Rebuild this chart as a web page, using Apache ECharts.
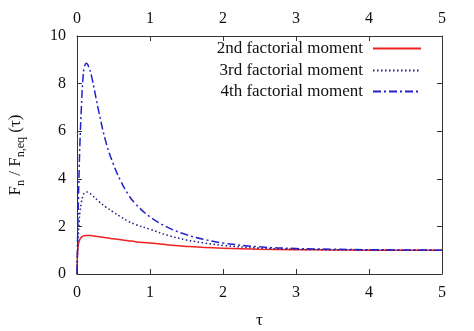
<!DOCTYPE html>
<html>
<head>
<meta charset="utf-8">
<script src="https://cdn.jsdelivr.net/npm/echarts@6/dist/echarts.min.js"></script>
<style>html,body{margin:0;padding:0;background:#fff;}#c{width:474px;height:331px;}</style>
</head>
<body>
<div id="c"></div>
<script>
var tau     = [0, 0.005, 0.01, 0.02, 0.03, 0.04, 0.06, 0.08, 0.1, 0.13, 0.16, 0.2, 0.3, 0.4, 0.5, 0.6, 0.7, 0.8, 1.0, 1.25, 1.5, 1.75, 2.0, 2.5, 3.0, 3.5, 4.0, 4.5, 5.0];
var moment2 = [0, 0.7, 1.0, 1.25, 1.38, 1.46, 1.54, 1.59, 1.61, 1.62, 1.62, 1.61, 1.57, 1.52, 1.48, 1.44, 1.4, 1.36, 1.3, 1.22, 1.16, 1.11, 1.08, 1.04, 1.02, 1.01, 1.0, 1.0, 1.0];
var moment3 = [0, 0.6, 1.0, 1.7, 2.2, 2.6, 3.0, 3.27, 3.4, 3.45, 3.42, 3.33, 3.05, 2.8, 2.6, 2.4, 2.22, 2.08, 1.88, 1.62, 1.43, 1.3, 1.2, 1.09, 1.04, 1.02, 1.01, 1.0, 1.0];
var moment4 = [0, 0.9, 1.8, 3.2, 4.4, 5.5, 7.0, 8.15, 8.7, 8.85, 8.7, 8.3, 6.8, 5.5, 4.6, 3.9, 3.35, 2.95, 2.4, 1.95, 1.65, 1.45, 1.3, 1.14, 1.07, 1.04, 1.02, 1.01, 1.0];
var xTicks = [0, 1, 2, 3, 4, 5];
var yTicks = [0, 2, 4, 6, 8, 10];
var names = ['2nd factorial moment', '3rd factorial moment', '4th factorial moment'];

function pairs(ys) { return tau.map(function (t, i) { return [t, ys[i]]; }); }

var serif = 'Liberation Serif';
var axisColor = '#333';
var chart = echarts.init(document.getElementById('c'), null, {renderer: 'canvas'});

function legendFor(name, top) {
  return {
    data: [name], right: 52, top: top, align: 'right', orient: 'vertical',
    itemWidth: 48, itemHeight: 10, itemGap: 6, padding: 0,
    itemStyle: {opacity: 0},
    textStyle: {fontFamily: serif, fontSize: 17, color: '#111', padding: [0, 5, 0, 0]},
    selectedMode: false
  };
}

chart.setOption({
  animation: false,
  backgroundColor: '#fff',
  grid: {left: 77, right: 32, top: 36, bottom: 57, show: false, containLabel: false, outerBoundsMode: 'none'},
  legend: [legendFor(names[0], 40), legendFor(names[1], 62), legendFor(names[2], 83)],
  xAxis: [{
    type: 'value', min: 0, max: 5, interval: 1, position: 'bottom',
    name: 'τ', nameLocation: 'middle', nameGap: 38,
    nameTextStyle: {fontFamily: serif, fontSize: 17, color: '#111'},
    axisLine: {show: true, onZero: false, lineStyle: {color: axisColor, width: 1}},
    axisTick: {show: true, inside: true, length: 5, lineStyle: {color: axisColor}},
    axisLabel: {fontFamily: serif, fontSize: 16, color: '#111', margin: 11, formatter: function (v) { return xTicks.indexOf(v) >= 0 ? String(v) : ''; }},
    splitLine: {show: false}
  }, {
    type: 'value', min: 0, max: 5, interval: 1, position: 'top',
    axisLine: {show: true, onZero: false, lineStyle: {color: axisColor, width: 1}},
    axisTick: {show: true, inside: true, length: 5, lineStyle: {color: axisColor}},
    axisLabel: {fontFamily: serif, fontSize: 16, color: '#111', margin: 9, formatter: function (v) { return xTicks.indexOf(v) >= 0 ? String(v) : ''; }},
    splitLine: {show: false}
  }],
  yAxis: [{
    type: 'value', min: 0, max: 10, interval: 2, position: 'left',
    name: '{b|F}{s|n}{b| / F}{s|n,eq}{b| (τ)}', nameLocation: 'middle', nameGap: 53, nameRotate: 90,
    nameTextStyle: {
      fontFamily: serif, fontSize: 17, color: '#111',
      rich: {
        b: {fontFamily: serif, fontSize: 17, color: '#111', verticalAlign: 'bottom', lineHeight: 20},
        s: {fontFamily: serif, fontSize: 12, color: '#111', verticalAlign: 'bottom', lineHeight: 14, padding: [0, 0, -3, 0]}
      }
    },
    axisLine: {show: true, onZero: false, lineStyle: {color: axisColor, width: 1}},
    axisTick: {show: true, inside: true, length: 5, lineStyle: {color: axisColor}},
    axisLabel: {fontFamily: serif, fontSize: 16, color: '#111', margin: 11, formatter: function (v) { return yTicks.indexOf(v) >= 0 ? String(v) : ''; }},
    splitLine: {show: false}
  }, {
    type: 'value', min: 0, max: 10, interval: 2, position: 'right',
    axisLine: {show: true, onZero: false, lineStyle: {color: axisColor, width: 1}},
    axisTick: {show: true, inside: true, length: 5, lineStyle: {color: axisColor}},
    axisLabel: {show: false},
    splitLine: {show: false}
  }],
  series: [{
    name: names[0], type: 'line', data: pairs(moment2), symbol: 'none', smooth: 0.4,
    lineStyle: {color: '#ee2222', width: 1.5, type: 'solid'}, itemStyle: {color: '#ee2222'}, z: 3
  }, {
    name: names[1], type: 'line', data: pairs(moment3), symbol: 'none', smooth: 0.4,
    lineStyle: {color: '#1a1a80', width: 1.5, type: [1.5, 2.5]}, itemStyle: {color: '#1a1a80'}, z: 4
  }, {
    name: names[2], type: 'line', data: pairs(moment4), symbol: 'none', smooth: 0.4,
    lineStyle: {color: '#2222cc', width: 1.5, type: [8, 3, 2, 3]}, itemStyle: {color: '#2222cc'}, z: 5
  }]
});
</script>
</body>
</html>
